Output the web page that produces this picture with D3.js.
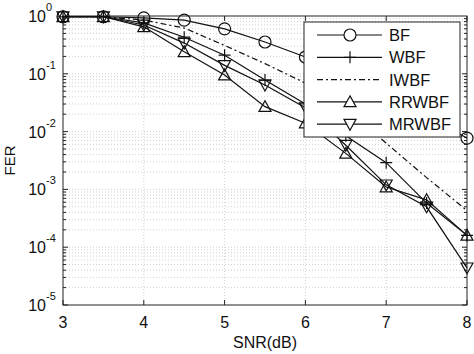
<!DOCTYPE html>
<html>
<head>
<meta charset="utf-8">
<script src="https://cdn.jsdelivr.net/npm/d3@7/dist/d3.min.js"></script>
<style>
  html, body { margin: 0; padding: 0; background: #fff; }
  svg { display: block; font-family: "Liberation Sans", Arial, sans-serif; }
</style>
</head>
<body>
<div id="chart"></div>
<script>
// FER vs SNR for the bit-flipping decoders
const snr = [3, 3.5, 4, 4.5, 5, 5.5, 6, 6.5, 7, 7.5, 8]
const bf = [0.97, 0.97, 0.93, 0.85, 0.60, 0.355, 0.195, 0.098, 0.046, 0.0195, 0.0077]
const wbf = [0.97, 0.97, 0.76, 0.43, 0.21, 0.078, 0.03, 0.0085, 0.0029, 0.00058, 0.00016]
const iwbf = [0.97, 0.97, 0.85, 0.62, 0.31, 0.15, 0.069, 0.026, 0.0063, 0.0016, 0.00043]
const rrwbf = [0.97, 0.97, 0.65, 0.24, 0.095, 0.027, 0.014, 0.0042, 0.0011, 0.00066, 0.00016]
const mrwbf = [0.97, 0.97, 0.70, 0.34, 0.14, 0.064, 0.026, 0.0058, 0.0012, 0.0005, 0.000044]

const xTicks = [3, 4, 5, 6, 7, 8]
const yExps = [0, -1, -2, -3, -4, -5]

const series = [
  { name: "BF", values: bf, marker: "circle", dash: null },
  { name: "WBF", values: wbf, marker: "plus", dash: null },
  { name: "IWBF", values: iwbf, marker: "none", dash: "6,3,2,3" },
  { name: "RRWBF", values: rrwbf, marker: "up", dash: null },
  { name: "MRWBF", values: mrwbf, marker: "down", dash: null }
]

const W = 474, H = 354
const M = { left: 63, right: 7, top: 16, bottom: 49 }

const svg = d3.select("#chart").append("svg")
  .attr("width", W).attr("height", H)

const x = d3.scaleLinear().domain([3, 8]).range([M.left, W - M.right])
const y = d3.scaleLog().domain([1e-5, 1]).range([H - M.bottom, M.top])

const x0 = x.range()[0], x1 = x.range()[1]
const y0 = y.range()[0], y1 = y.range()[1]

// grid (dotted)
const grid = svg.append("g")
  .attr("stroke", "#c4c4c4")
  .attr("stroke-width", 0.8)
  .attr("stroke-dasharray", "1,2")

xTicks.slice(1, -1).forEach(t => {
  grid.append("line").attr("x1", x(t)).attr("x2", x(t)).attr("y1", y0).attr("y2", y1)
})

const minorVals = []
for (let e = -5; e < 0; e++) {
  for (let m = 1; m < 10; m++) minorVals.push(m * Math.pow(10, e))
}
minorVals.forEach(v => {
  if (v <= 1e-5 || v >= 1) return
  grid.append("line").attr("x1", x0).attr("x2", x1).attr("y1", y(v)).attr("y2", y(v))
})

// axes box + inside ticks
const axes = svg.append("g").attr("stroke", "#222").attr("stroke-width", 1)
axes.append("rect")
  .attr("x", x0).attr("y", y1)
  .attr("width", x1 - x0).attr("height", y0 - y1)
  .attr("fill", "none")

xTicks.forEach(t => {
  axes.append("line").attr("x1", x(t)).attr("x2", x(t)).attr("y1", y0).attr("y2", y0 - 5)
  axes.append("line").attr("x1", x(t)).attr("x2", x(t)).attr("y1", y1).attr("y2", y1 + 5)
})
minorVals.forEach(v => {
  const len = Math.abs(Math.log10(v) - Math.round(Math.log10(v))) < 1e-9 ? 5 : 3
  axes.append("line").attr("x1", x0).attr("x2", x0 + len).attr("y1", y(v)).attr("y2", y(v))
  axes.append("line").attr("x1", x1).attr("x2", x1 - len).attr("y1", y(v)).attr("y2", y(v))
})

// tick labels
const labels = svg.append("g").attr("fill", "#111")
xTicks.forEach(t => {
  labels.append("text")
    .attr("x", x(t)).attr("y", y0 + 23)
    .attr("text-anchor", "middle")
    .attr("font-size", "16px")
    .text(t)
})
yExps.forEach(e => {
  const yy = y(Math.pow(10, e))
  labels.append("text")
    .attr("x", 46).attr("y", yy + 6)
    .attr("text-anchor", "end")
    .attr("font-size", "16px")
    .text("10")
  labels.append("text")
    .attr("x", 46).attr("y", yy - 5)
    .attr("font-size", "11px")
    .text(e)
})

labels.append("text")
  .attr("x", (x0 + x1) / 2).attr("y", H - 6)
  .attr("text-anchor", "middle")
  .attr("font-size", "16px")
  .text("SNR(dB)")

labels.append("text")
  .attr("transform", `translate(15, ${(y0 + y1) / 2}) rotate(-90)`)
  .attr("text-anchor", "middle")
  .attr("font-size", "15px")
  .text("FER")

// markers
function drawMarker(g, kind, cx, cy) {
  const s = 6
  if (kind === "circle") {
    g.append("circle").attr("cx", cx).attr("cy", cy).attr("r", s)
  } else if (kind === "plus") {
    g.append("path").attr("d", `M${cx - s},${cy}H${cx + s}M${cx},${cy - s}V${cy + s}`)
  } else if (kind === "up") {
    g.append("path").attr("d", `M${cx},${cy - s}L${cx + s},${cy + s * 0.8}L${cx - s},${cy + s * 0.8}Z`)
  } else if (kind === "down") {
    g.append("path").attr("d", `M${cx},${cy + s}L${cx + s},${cy - s * 0.8}L${cx - s},${cy - s * 0.8}Z`)
  }
}

const line = d3.line().x(d => x(d[0])).y(d => y(d[1]))

const plot = svg.append("g")
series.forEach(s => {
  const pts = snr.map((v, i) => [v, s.values[i]])
  plot.append("path")
    .attr("d", line(pts))
    .attr("fill", "none")
    .attr("stroke", "#111")
    .attr("stroke-width", 1.2)
    .attr("stroke-dasharray", s.dash)
  const mg = plot.append("g").attr("fill", "none").attr("stroke", "#111").attr("stroke-width", 1.2)
  pts.forEach(p => drawMarker(mg, s.marker, x(p[0]), y(p[1])))
})

// legend
const lg = svg.append("g")
lg.append("rect")
  .attr("x", 304).attr("y", 22).attr("width", 156).attr("height", 115)
  .attr("fill", "#fff").attr("stroke", "#222").attr("stroke-width", 1)

series.forEach((s, i) => {
  const ly = 35 + i * 22.3
  lg.append("line")
    .attr("x1", 317).attr("x2", 382).attr("y1", ly).attr("y2", ly)
    .attr("stroke", "#111").attr("stroke-width", 1.2)
    .attr("stroke-dasharray", s.dash)
  const mg = lg.append("g").attr("fill", "#fff").attr("stroke", "#111").attr("stroke-width", 1.2)
  drawMarker(mg, s.marker, 350, ly)
  lg.append("text")
    .attr("x", 389).attr("y", ly + 6)
    .attr("font-size", "16.5px")
    .attr("fill", "#111")
    .text(s.name)
})
</script>
</body>
</html>
